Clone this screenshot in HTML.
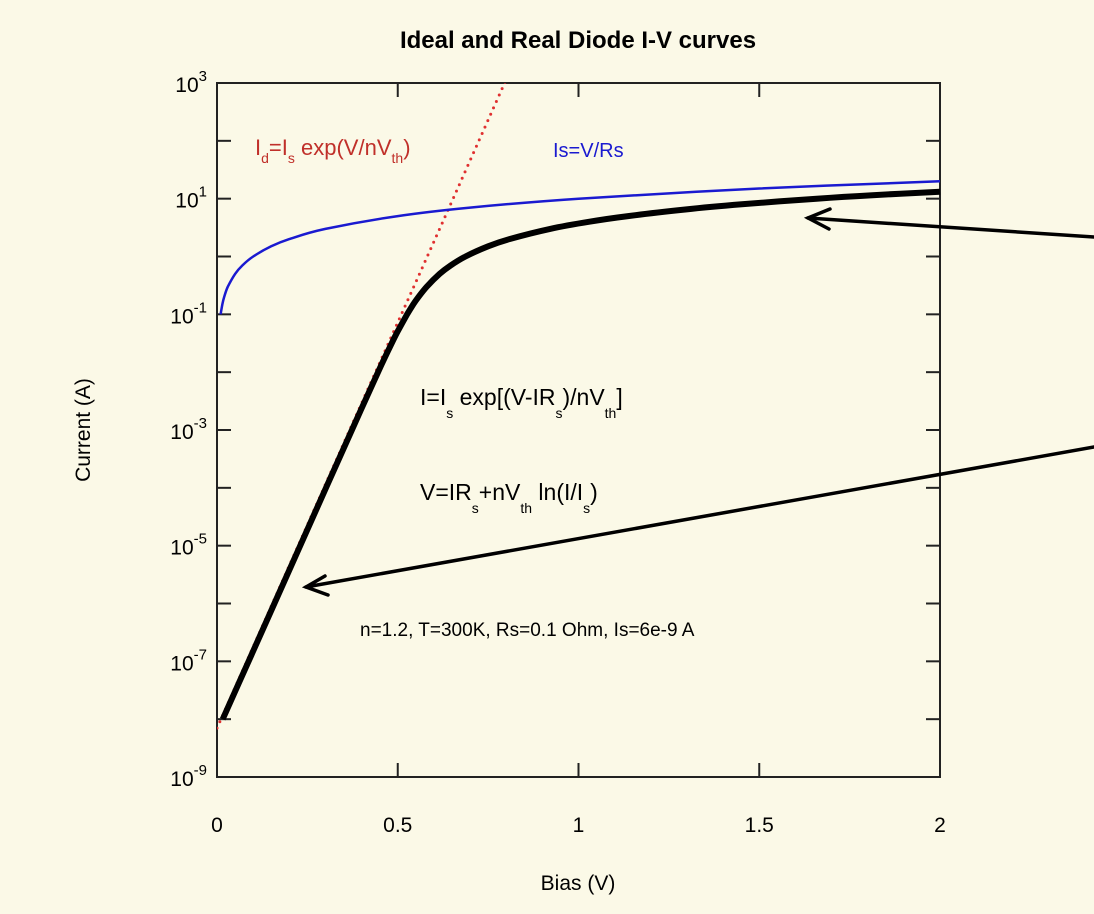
<!DOCTYPE html>
<html><head><meta charset="utf-8"><style>
html,body{margin:0;padding:0;background:#fbf9e7;}
svg{display:block;font-family:"Liberation Sans",Arial,sans-serif;}
</style></head><body>
<svg id="chart" width="1094" height="914" viewBox="0 0 1094 914">
<rect width="1094" height="914" fill="#fbf9e7"/>
<text x="578" y="48" text-anchor="middle" font-size="24" font-weight="bold">Ideal and Real Diode I-V curves</text>
<g id="axes"></g>
<g id="series"></g>
<text x="578" y="890" text-anchor="middle" font-size="21">Bias (V)</text>
<text transform="translate(90,430) rotate(-90)" text-anchor="middle" font-size="21">Current (A)</text>
<text x="255" y="155" font-size="22" fill="#c0302a">I<tspan font-size="14" dy="8">d</tspan><tspan dy="-8">=I</tspan><tspan font-size="14" dy="8">s</tspan><tspan dy="-8"> exp(V/nV</tspan><tspan font-size="14" dy="8">th</tspan><tspan dy="-8">)</tspan></text>
<text x="553" y="157" font-size="20" fill="#1a1ad0">Is=V/Rs</text>
<text x="420" y="405" font-size="23">I=I<tspan font-size="14" dy="13">s</tspan><tspan dy="-13"> exp[(V-IR</tspan><tspan font-size="14" dy="13">s</tspan><tspan dy="-13">)/nV</tspan><tspan font-size="14" dy="13">th</tspan><tspan dy="-13">]</tspan></text>
<text x="420" y="500" font-size="23">V=IR<tspan font-size="14" dy="13">s</tspan><tspan dy="-13">+nV</tspan><tspan font-size="14" dy="13">th</tspan><tspan dy="-13"> ln(I/I</tspan><tspan font-size="14" dy="13">s</tspan><tspan dy="-13">)</tspan></text>
<text x="360" y="636" font-size="19">n=1.2, T=300K, Rs=0.1 Ohm, Is=6e-9 A</text>
<g stroke="#000" stroke-width="3.5" fill="none" stroke-linecap="round">
<line x1="1094" y1="237" x2="808" y2="218"/>
<polyline points="830,209 808,218 829,229"/>
<line x1="1094" y1="447" x2="306" y2="587"/>
<polyline points="325,576 306,587 328,595"/>
</g>
</svg>
<script>
const xTicks=[0,0.5,1,1.5,2];
const xTickLabels=["0","0.5","1","1.5","2"];
const yDecadesLabeled=[3,1,-1,-3,-5,-7,-9];
const yDecadesMinor=[2,0,-2,-4,-6,-8];
const idealV=[0,0.2,0.4,0.6,0.8];
const idealI=[7e-9,4.5e-6,2.9e-3,1.8,1150];
const resistorV=[0.01,0.015,0.02,0.03,0.05,0.07,0.1,0.15,0.2,0.3,0.5,0.7,1,1.5,2];
const resistorI=[0.1,0.15,0.2,0.3,0.5,0.7,1,1.5,2,3,5,7,10,15,20];
const realV=[0.0158,0.0873,0.1587,0.2302,0.3016,0.3731,0.4455,0.4815,0.4993,0.5259,0.5434,0.5574,0.58,0.6158,0.6462,0.6873,0.7499,0.8088,0.9214,1.0303,1.1372,1.2953,1.4518,1.6587,1.813,2.0];
const realI=[1e-8,1e-7,1e-6,1e-5,1e-4,1e-3,1e-2,0.03,0.05,0.1,0.15,0.2,0.3,0.5,0.7,1,1.5,2,3,4,5,6.5,8,10,11.5,13.2];

const NS="http://www.w3.org/2000/svg";
const X0=217,X1=940,Y0=777,Y1=83;
const xs=v=>X0+(v/2)*(X1-X0);
const ys=i=>Y0-((Math.log10(i)+9)/12)*(Y0-Y1);
const yl=d=>Y0-((d+9)/12)*(Y0-Y1);
function mk(tag,attrs,parent){const e=document.createElementNS(NS,tag);for(const k in attrs)e.setAttribute(k,attrs[k]);parent.appendChild(e);return e;}
const axes=document.getElementById('axes'),series=document.getElementById('series');
const frame=mk('rect',{x:X0,y:Y1,width:X1-X0,height:Y0-Y1,fill:'none',stroke:'#222','stroke-width':2},axes);


xTicks.forEach((t,k)=>{
  const x=xs(t);
  const tb=mk('line',{x1:x,y1:Y0,x2:x,y2:Y0-14,stroke:'#222','stroke-width':2},axes);
  
  
  const tt=mk('line',{x1:x,y1:Y1,x2:x,y2:Y1+14,stroke:'#222','stroke-width':2},axes);
  
  
  const lb=mk('text',{x:x,y:Y0+55,'text-anchor':'middle','font-size':21},axes);
  lb.textContent=xTickLabels[k];
  
  
});
yDecadesLabeled.concat(yDecadesMinor).forEach(d=>{
  const y=yl(d);
  const l=mk('line',{x1:X0,y1:y,x2:X0+14,y2:y,stroke:'#222','stroke-width':2},axes);
  
  
  const r=mk('line',{x1:X1,y1:y,x2:X1-14,y2:y,stroke:'#222','stroke-width':2},axes);
  
  
});
yDecadesLabeled.forEach(d=>{
  const y=yl(d);
  const t=mk('text',{x:X0-10,y:y+9,'text-anchor':'end','font-size':21},axes);
  
  
  t.textContent='10';
  const s=mk('tspan',{'font-size':15,dy:-11},t);
  s.textContent=String(d);
});
function path(V,I){
  const p=V.map((v,k)=>[xs(v),ys(I[k])]);
  let d='M'+p[0][0].toFixed(1)+','+p[0][1].toFixed(1);
  for(let k=0;k<p.length-1;k++){
    const p0=p[k-1]||p[k],p1=p[k],p2=p[k+1],p3=p[k+2]||p2;
    const c1=[p1[0]+(p2[0]-p0[0])/6,p1[1]+(p2[1]-p0[1])/6];
    const c2=[p2[0]-(p3[0]-p1[0])/6,p2[1]-(p3[1]-p1[1])/6];
    d+=' C'+c1.map(n=>n.toFixed(1)).join(',')+' '+c2.map(n=>n.toFixed(1)).join(',')+' '+p2[0].toFixed(1)+','+p2[1].toFixed(1);
  }
  return d;
}
const cp=mk('clipPath',{id:'clip'},series);
mk('rect',{x:X0,y:Y1,width:X1-X0,height:Y0-Y1},cp);
const ideal=mk('path',{d:path(idealV,idealI),fill:'none',stroke:'#e03030','stroke-width':3,'stroke-dasharray':'0 7','stroke-linecap':'round','clip-path':'url(#clip)'},series);


const res=mk('path',{d:path(resistorV,resistorI),fill:'none',stroke:'#1a1ad0','stroke-width':2.5},series);


const real=mk('path',{d:path(realV,realI),fill:'none',stroke:'#000','stroke-width':6,'stroke-linejoin':'round'},series);


</script>
</body></html>
